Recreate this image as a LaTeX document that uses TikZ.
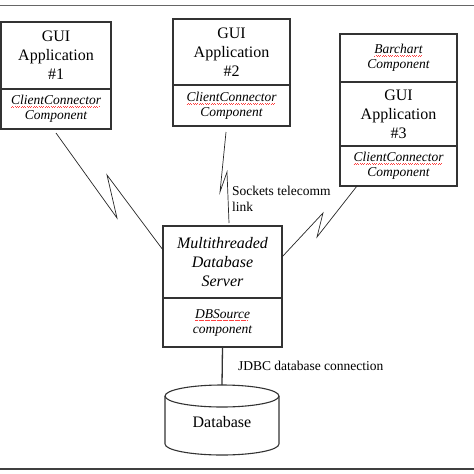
\documentclass[tikz,border=0pt]{standalone}
\usepackage{fontspec}
\setmainfont{Liberation Serif}
\usetikzlibrary{
  positioning
  }
\newcommand\spellwave[1]{\setbox0\hbox{#1}\rlap{\color{red!75}\raisebox{-2.8pt}{\hbox to\wd0{\leaders\hbox{\rule{0.9pt}{0.45pt}\hskip0.3pt\rule[0.6pt]{0.9pt}{0.45pt}\hskip0.3pt}\hfill}}}#1}

\begin{document}
\begin{tikzpicture}[x=1pt,y=-1pt]
  \tikzstyle{every node}=[inner sep=0pt, outer sep=0pt]
  \tikzstyle{part}=[draw=black!80, line width=1.1pt, align=center]
  \tikzstyle{bigpart}=[part, font=\fontsize{16}{19}\selectfont]
  \tikzstyle{smallpart}=[part, font=\fontsize{13.5}{15}\selectfont\itshape]
  \tikzstyle{zap}=[draw=black!85, line width=0.7pt, line join=miter]
  \tikzstyle{note}=[align=left, font=\fontsize{13.5}{16}\selectfont]
  \useasboundingbox (0,0) rectangle (474,474);
  % frame lines
  \draw[black!60, line width=0.8pt] (0,5) -- (474,5);
  \draw[black!75, line width=1.8pt] (0,469) -- (474,469);
  % application 1
  \node[bigpart, minimum width=110pt, minimum height=67pt] (app1) at (56,55.5)
    {GUI\\Application\\\#1};
  \node[smallpart, minimum width=110pt, minimum height=40pt, below=0pt of app1] (cc1)
    {\spellwave{ClientConnector}\\Component};
  % application 2
  \node[bigpart, minimum width=117pt, minimum height=66pt] (app2) at (231.5,52)
    {GUI\\Application\\\#2};
  \node[smallpart, minimum width=117pt, minimum height=41pt, below=0pt of app2] (cc2)
    {\spellwave{ClientConnector}\\Component};
  % application 3
  \node[smallpart, minimum width=117pt, minimum height=48pt] (bar3) at (398.5,58)
    {\spellwave{Barchart}\\Component};
  \node[bigpart, minimum width=117pt, minimum height=64pt, below=0pt of bar3] (app3)
    {GUI\\Application\\\#3};
  \node[smallpart, minimum width=117pt, minimum height=40pt, below=0pt of app3] (cc3)
    {\spellwave{ClientConnector}\\Component};
  % server
  \node[bigpart, font=\fontsize{16}{19}\selectfont\itshape,
    minimum width=119pt, minimum height=72pt] (srv) at (222.5,262)
    {Multithreaded\\Database\\Server};
  \node[smallpart, minimum width=119pt, minimum height=49pt, below=0pt of srv] (dbs)
    {\spellwave{DBSource}\\component};
  % database
  \draw[part] (165,396) -- (165,444) arc[start angle=180, end angle=360,
    x radius=57pt, y radius=11pt] -- (279,396);
  \draw[part] (222,396) ellipse [x radius=57pt, y radius=11pt];
  \node[font=\fontsize{16}{19}\selectfont] (db) at (222,422) {Database};
  \coordinate (dbtop) at (222,385);
  % links
  \draw[zap] ([yshift=-4pt]cc1.south) -- (117,218) -- (107,175) -- ([yshift=12pt]srv.west);
  \draw[zap] ([xshift=-5.5pt,yshift=-6pt]cc2.south) -- (220,192) -- (227,172)
    -- ([xshift=6.5pt,yshift=3pt]srv.north);
  \draw[zap] ([xshift=17pt]cc3.south west) -- (317,237) -- (323,213) -- ([yshift=5pt]srv.east);
  \draw[black!80, line width=1.3pt] (dbs.south) -- (dbtop);
  \node[note, anchor=west] (sock) at (232,199) {Sockets telecomm\\link};
  \node[note, anchor=west] (jdbc) at (238,366) {JDBC database connection};
\end{tikzpicture}
\end{document}
